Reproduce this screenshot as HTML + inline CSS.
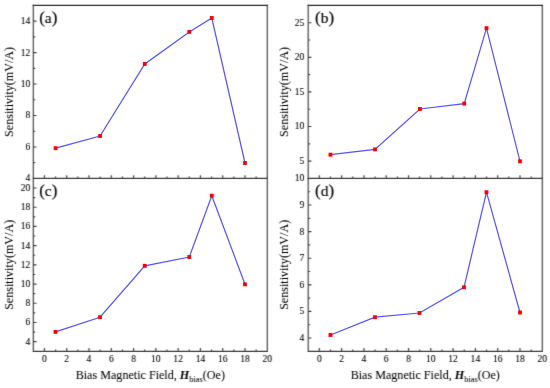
<!DOCTYPE html>
<html><head><meta charset="utf-8"><title>Sensitivity vs Bias Magnetic Field</title><style>
html,body{margin:0;padding:0;background:#fff;}
svg{display:block;font-family:"Liberation Serif", "Times New Roman", serif;}
text{fill:#000;stroke:#000;}
.tl{font-size:9.6px;stroke-width:0.08px;}
.ti{font-size:12.1px;stroke-width:0.04px;}
.pl{font-size:15.5px;stroke-width:0.15px;}
.pp{font-size:17.0px;}
.ax{fill:none;stroke:#3c3c3c;stroke-width:1.15px;}
.axt{fill:none;stroke:#2a2a2a;stroke-width:1.15px;}
.dl{fill:none;stroke:#5252ff;stroke-width:1.2px;}
.pt{fill:#ff0000;}
</style></head><body>
<svg width="550" height="388" viewBox="0 0 550 388">
<defs><filter id="bl" x="0" y="0" width="550" height="388" filterUnits="userSpaceOnUse" color-interpolation-filters="sRGB"><feConvolveMatrix order="3" kernelMatrix="0.0120 0.0560 0.0120 0.1260 0.5880 0.1260 0.0120 0.0560 0.0120" divisor="1" preserveAlpha="true" edgeMode="duplicate"/></filter></defs>
<g filter="url(#bl)">
<rect width="550" height="388" fill="#fff"/>
<!-- panel (a) -->
<path d="M33.3 4.83V178.97M267.3 4.83V178.97M32.72 178.4H267.88" class="ax"/>
<path d="M32.72 5.4H267.88" class="axt"/>
<path d="M44.44 178.4v-3.2M55.59 178.4v-1.9M66.73 178.4v-3.2M77.87 178.4v-1.9M89.01 178.4v-3.2M100.16 178.4v-1.9M111.3 178.4v-3.2M122.44 178.4v-1.9M133.59 178.4v-3.2M144.73 178.4v-1.9M155.87 178.4v-3.2M167.01 178.4v-1.9M178.16 178.4v-3.2M189.3 178.4v-1.9M200.44 178.4v-3.2M211.59 178.4v-1.9M222.73 178.4v-3.2M233.87 178.4v-1.9M245.01 178.4v-3.2M256.16 178.4v-1.9M33.3 162.67h1.9M33.3 146.95h3.2M33.3 131.22h1.9M33.3 115.49h3.2M33.3 99.76h1.9M33.3 84.04h3.2M33.3 68.31h1.9M33.3 52.58h3.2M33.3 36.85h1.9M33.3 21.13h3.2" class="ax"/>
<text x="30.3" y="181.35" text-anchor="end" class="tl">4</text>
<text x="30.3" y="149.9" text-anchor="end" class="tl">6</text>
<text x="30.3" y="118.44" text-anchor="end" class="tl">8</text>
<text x="30.3" y="86.99" text-anchor="end" class="tl">10</text>
<text x="30.3" y="55.53" text-anchor="end" class="tl">12</text>
<text x="30.3" y="24.08" text-anchor="end" class="tl">14</text>
<text transform="translate(13 91.9) rotate(-90)" text-anchor="middle" class="ti">Sensitivity(mV/A)</text>
<text transform="translate(39.2 23.4) scale(1.0 1)" class="pl"><tspan class="pp">(</tspan>a<tspan class="pp">)</tspan></text>
<!-- panel (b) -->
<path d="M308.2 4.83V178.97M542.3 4.83V178.97M307.62 178.4H542.88" class="ax"/>
<path d="M307.62 5.4H542.88" class="axt"/>
<path d="M319.35 178.4v-3.2M330.5 178.4v-1.9M341.64 178.4v-3.2M352.79 178.4v-1.9M363.94 178.4v-3.2M375.09 178.4v-1.9M386.23 178.4v-3.2M397.38 178.4v-1.9M408.53 178.4v-3.2M419.68 178.4v-1.9M430.82 178.4v-3.2M441.97 178.4v-1.9M453.12 178.4v-3.2M464.27 178.4v-1.9M475.41 178.4v-3.2M486.56 178.4v-1.9M497.71 178.4v-3.2M508.86 178.4v-1.9M520 178.4v-3.2M531.15 178.4v-1.9M308.2 161.1h3.2M308.2 143.8h1.9M308.2 126.5h3.2M308.2 109.2h1.9M308.2 91.9h3.2M308.2 74.6h1.9M308.2 57.3h3.2M308.2 40h1.9M308.2 22.7h3.2" class="ax"/>
<text x="304.4" y="164.05" text-anchor="end" class="tl">5</text>
<text x="304.4" y="129.45" text-anchor="end" class="tl">10</text>
<text x="304.4" y="94.85" text-anchor="end" class="tl">15</text>
<text x="304.4" y="60.25" text-anchor="end" class="tl">20</text>
<text x="304.4" y="25.65" text-anchor="end" class="tl">25</text>
<text transform="translate(287.9 91.9) rotate(-90)" text-anchor="middle" class="ti">Sensitivity(mV/A)</text>
<text transform="translate(315.1 23.4) scale(1.0 1)" class="pl"><tspan class="pp">(</tspan>b<tspan class="pp">)</tspan></text>
<!-- panel (c) -->
<path d="M33.3 177.83V351.88M267.3 177.83V351.88M32.72 351.3H267.88" class="ax"/>
<path d="M44.44 351.3v-3.2M55.59 351.3v-1.9M66.73 351.3v-3.2M77.87 351.3v-1.9M89.01 351.3v-3.2M100.16 351.3v-1.9M111.3 351.3v-3.2M122.44 351.3v-1.9M133.59 351.3v-3.2M144.73 351.3v-1.9M155.87 351.3v-3.2M167.01 351.3v-1.9M178.16 351.3v-3.2M189.3 351.3v-1.9M200.44 351.3v-3.2M211.59 351.3v-1.9M222.73 351.3v-3.2M233.87 351.3v-1.9M245.01 351.3v-3.2M256.16 351.3v-1.9M33.3 341.69h3.2M33.3 332.09h1.9M33.3 322.48h3.2M33.3 312.88h1.9M33.3 303.27h3.2M33.3 293.67h1.9M33.3 284.06h3.2M33.3 274.46h1.9M33.3 264.85h3.2M33.3 255.24h1.9M33.3 245.64h3.2M33.3 236.03h1.9M33.3 226.43h3.2M33.3 216.82h1.9M33.3 207.22h3.2M33.3 197.61h1.9M33.3 188.01h3.2" class="ax"/>
<text x="30.3" y="344.64" text-anchor="end" class="tl">4</text>
<text x="30.3" y="325.43" text-anchor="end" class="tl">6</text>
<text x="30.3" y="306.22" text-anchor="end" class="tl">8</text>
<text x="30.3" y="287.01" text-anchor="end" class="tl">10</text>
<text x="30.3" y="267.8" text-anchor="end" class="tl">12</text>
<text x="30.3" y="248.59" text-anchor="end" class="tl">14</text>
<text x="30.3" y="229.38" text-anchor="end" class="tl">16</text>
<text x="30.3" y="210.17" text-anchor="end" class="tl">18</text>
<text x="30.3" y="190.96" text-anchor="end" class="tl">20</text>
<text x="44.44" y="362.1" text-anchor="middle" class="tl">0</text>
<text x="66.73" y="362.1" text-anchor="middle" class="tl">2</text>
<text x="89.01" y="362.1" text-anchor="middle" class="tl">4</text>
<text x="111.3" y="362.1" text-anchor="middle" class="tl">6</text>
<text x="133.59" y="362.1" text-anchor="middle" class="tl">8</text>
<text x="155.87" y="362.1" text-anchor="middle" class="tl">10</text>
<text x="178.16" y="362.1" text-anchor="middle" class="tl">12</text>
<text x="200.44" y="362.1" text-anchor="middle" class="tl">14</text>
<text x="222.73" y="362.1" text-anchor="middle" class="tl">16</text>
<text x="245.01" y="362.1" text-anchor="middle" class="tl">18</text>
<text x="267.3" y="362.1" text-anchor="middle" class="tl">20</text>
<text x="150.3" y="379" text-anchor="middle" class="ti">Bias Magnetic Field, <tspan font-weight="bold" font-style="italic">H</tspan><tspan font-size="8.4" dy="2.9">bias</tspan><tspan dy="-2.9">(Oe)</tspan></text>
<text transform="translate(13 264.85) rotate(-90)" text-anchor="middle" class="ti">Sensitivity(mV/A)</text>
<text transform="translate(39.2 196.4) scale(1.0 1)" class="pl"><tspan class="pp">(</tspan>c<tspan class="pp">)</tspan></text>
<!-- panel (d) -->
<path d="M308.2 177.83V351.88M542.3 177.83V351.88M307.62 351.3H542.88" class="ax"/>
<path d="M319.35 351.3v-3.2M330.5 351.3v-1.9M341.64 351.3v-3.2M352.79 351.3v-1.9M363.94 351.3v-3.2M375.09 351.3v-1.9M386.23 351.3v-3.2M397.38 351.3v-1.9M408.53 351.3v-3.2M419.68 351.3v-1.9M430.82 351.3v-3.2M441.97 351.3v-1.9M453.12 351.3v-3.2M464.27 351.3v-1.9M475.41 351.3v-3.2M486.56 351.3v-1.9M497.71 351.3v-3.2M508.86 351.3v-1.9M520 351.3v-3.2M531.15 351.3v-1.9M308.2 338h3.2M308.2 324.7h1.9M308.2 311.4h3.2M308.2 298.1h1.9M308.2 284.8h3.2M308.2 271.5h1.9M308.2 258.2h3.2M308.2 244.9h1.9M308.2 231.6h3.2M308.2 218.3h1.9M308.2 205h3.2M308.2 191.7h1.9" class="ax"/>
<text x="304.4" y="340.95" text-anchor="end" class="tl">4</text>
<text x="304.4" y="314.35" text-anchor="end" class="tl">5</text>
<text x="304.4" y="287.75" text-anchor="end" class="tl">6</text>
<text x="304.4" y="261.15" text-anchor="end" class="tl">7</text>
<text x="304.4" y="234.55" text-anchor="end" class="tl">8</text>
<text x="304.4" y="207.95" text-anchor="end" class="tl">9</text>
<text x="304.4" y="181.35" text-anchor="end" class="tl">10</text>
<text x="319.35" y="362.1" text-anchor="middle" class="tl">0</text>
<text x="341.64" y="362.1" text-anchor="middle" class="tl">2</text>
<text x="363.94" y="362.1" text-anchor="middle" class="tl">4</text>
<text x="386.23" y="362.1" text-anchor="middle" class="tl">6</text>
<text x="408.53" y="362.1" text-anchor="middle" class="tl">8</text>
<text x="430.82" y="362.1" text-anchor="middle" class="tl">10</text>
<text x="453.12" y="362.1" text-anchor="middle" class="tl">12</text>
<text x="475.41" y="362.1" text-anchor="middle" class="tl">14</text>
<text x="497.71" y="362.1" text-anchor="middle" class="tl">16</text>
<text x="520" y="362.1" text-anchor="middle" class="tl">18</text>
<text x="542.3" y="362.1" text-anchor="middle" class="tl">20</text>
<text x="425.25" y="379" text-anchor="middle" class="ti">Bias Magnetic Field, <tspan font-weight="bold" font-style="italic">H</tspan><tspan font-size="8.4" dy="2.9">bias</tspan><tspan dy="-2.9">(Oe)</tspan></text>
<text transform="translate(287.9 264.85) rotate(-90)" text-anchor="middle" class="ti">Sensitivity(mV/A)</text>
<text transform="translate(315.1 196.4) scale(1.0 1)" class="pl"><tspan class="pp">(</tspan>d<tspan class="pp">)</tspan></text>
</g>
<path d="M55.6 148.2L100.05 136L144.8 63.9L189.3 31.9L211.8 18L245 163" class="dl"/>
<rect x="53.7" y="146.25" width="3.8" height="3.9" class="pt"/>
<rect x="98.15" y="134.05" width="3.8" height="3.9" class="pt"/>
<rect x="142.9" y="61.95" width="3.8" height="3.9" class="pt"/>
<rect x="187.4" y="29.95" width="3.8" height="3.9" class="pt"/>
<rect x="209.9" y="16.05" width="3.8" height="3.9" class="pt"/>
<rect x="243.1" y="161.05" width="3.8" height="3.9" class="pt"/>
<path d="M330.5 154.7L375 149.4L419.9 109L464.2 103.6L486.5 28.2L520 161.3" class="dl"/>
<rect x="328.6" y="152.75" width="3.8" height="3.9" class="pt"/>
<rect x="373.1" y="147.45" width="3.8" height="3.9" class="pt"/>
<rect x="418" y="107.05" width="3.8" height="3.9" class="pt"/>
<rect x="462.3" y="101.65" width="3.8" height="3.9" class="pt"/>
<rect x="484.6" y="26.25" width="3.8" height="3.9" class="pt"/>
<rect x="518.1" y="159.35" width="3.8" height="3.9" class="pt"/>
<path d="M55.5 331.9L100 317.2L144.8 265.8L189.3 257L211.8 195.7L245 284.3" class="dl"/>
<rect x="53.6" y="329.95" width="3.8" height="3.9" class="pt"/>
<rect x="98.1" y="315.25" width="3.8" height="3.9" class="pt"/>
<rect x="142.9" y="263.85" width="3.8" height="3.9" class="pt"/>
<rect x="187.4" y="255.05" width="3.8" height="3.9" class="pt"/>
<rect x="209.9" y="193.75" width="3.8" height="3.9" class="pt"/>
<rect x="243.1" y="282.35" width="3.8" height="3.9" class="pt"/>
<path d="M330.5 335L375 317.2L419.5 313L464 287.3L486.5 192.2L520 312.5" class="dl"/>
<rect x="328.6" y="333.05" width="3.8" height="3.9" class="pt"/>
<rect x="373.1" y="315.25" width="3.8" height="3.9" class="pt"/>
<rect x="417.6" y="311.05" width="3.8" height="3.9" class="pt"/>
<rect x="462.1" y="285.35" width="3.8" height="3.9" class="pt"/>
<rect x="484.6" y="190.25" width="3.8" height="3.9" class="pt"/>
<rect x="518.1" y="310.55" width="3.8" height="3.9" class="pt"/>
</svg>
</body></html>
